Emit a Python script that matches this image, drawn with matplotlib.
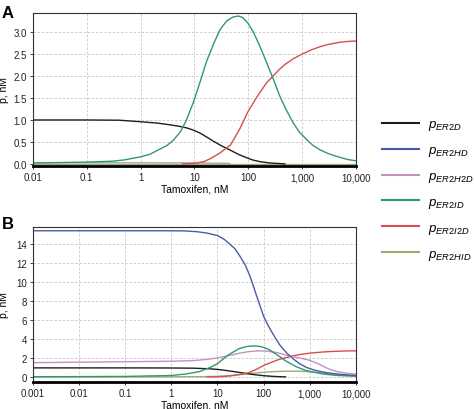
import matplotlib
matplotlib.use("Agg")
import matplotlib.pyplot as plt
from matplotlib.lines import Line2D
from matplotlib.ticker import FixedLocator, FixedFormatter, NullLocator

plt.rcParams['font.family'] = ['Liberation Sans', 'DejaVu Sans']
plt.rcParams['mathtext.fontset'] = 'custom'
plt.rcParams['mathtext.it'] = 'Liberation Sans:italic'
plt.rcParams['mathtext.rm'] = 'Liberation Sans'
plt.rcParams['mathtext.default'] = 'it'

# ---- data, panel A ----
a_black_x = [0.01, 0.1, 0.4, 1, 2, 3.1, 5, 7.2, 10, 12.8, 17, 23, 32, 47, 65, 81, 120, 165, 250, 480]
a_black_y = [1.0, 1.0, 0.995, 0.96, 0.93, 0.9, 0.86, 0.82, 0.76, 0.7, 0.61, 0.51, 0.41, 0.31, 0.22, 0.17, 0.09, 0.05, 0.02, 0.0]

a_pink_x = [0.01, 0.1, 1, 10, 30, 45]
a_pink_y = [0.025, 0.025, 0.025, 0.022, 0.015, 0.01]

a_olive_x = [0.01, 0.1, 1, 10, 100, 1000, 10000]
a_olive_y = [0.005, 0.005, 0.005, 0.005, 0.005, 0.005, 0.005]

a_green_x = [0.01, 0.1, 0.3, 0.5, 1, 1.5, 2, 3.1, 4, 5.5, 7, 9.7, 13, 17, 23, 30, 40, 53, 66, 80,
             100, 125, 160, 220, 300, 385, 500, 690, 900, 1230, 1600, 2160, 3000, 3700, 5000, 7000, 10000]
a_green_y = [0.02, 0.04, 0.06, 0.09, 0.16, 0.22, 0.3, 0.42, 0.53, 0.73, 0.98, 1.42, 1.9, 2.35, 2.75, 3.06, 3.26, 3.35, 3.37, 3.33,
             3.2, 3.0, 2.72, 2.31, 1.9, 1.55, 1.25, 0.93, 0.72, 0.55, 0.42, 0.32, 0.24, 0.2, 0.15, 0.1, 0.07]

a_red_x = [6, 10, 15, 20, 30, 47, 70, 100, 150, 220, 300, 385, 500, 700, 1000, 1500, 2160, 3000, 5000, 7000, 10000]
a_red_y = [0.0, 0.01, 0.05, 0.12, 0.25, 0.43, 0.8, 1.2, 1.55, 1.85, 2.02, 2.16, 2.28, 2.4, 2.5, 2.6, 2.67, 2.72, 2.77, 2.79, 2.8]

# ---- data, panel B ----
b_black_x = [0.001, 0.01, 0.1, 1, 3, 7, 12, 20, 35, 60, 100, 165, 300]
b_black_y = [0.95, 0.95, 0.95, 0.94, 0.92, 0.85, 0.75, 0.6, 0.42, 0.25, 0.13, 0.05, 0.0]

b_blue_x = [0.001, 0.01, 0.1, 1, 2, 3.6, 6, 10, 14, 18.5, 24, 30, 40, 50, 60, 70, 85, 100, 120, 140,
            180, 230, 320, 440, 600, 850, 1200, 1600, 2300, 4000, 6000, 10000]
b_blue_y = [15.4, 15.4, 15.4, 15.4, 15.38, 15.3, 15.15, 14.9, 14.5, 14.0, 13.5, 12.8, 11.8, 10.7, 9.6, 8.6, 7.4, 6.4, 5.6, 5.0,
            4.1, 3.3, 2.5, 1.9, 1.4, 1.0, 0.75, 0.6, 0.45, 0.3, 0.22, 0.15]

b_pink_x = [0.001, 0.01, 0.1, 1, 3, 6, 10, 20, 30, 50, 80, 120, 200, 370, 600, 1000, 1500, 2000, 2700, 4000, 6000, 10000]
b_pink_y = [1.5, 1.55, 1.6, 1.65, 1.72, 1.85, 2.0, 2.3, 2.5, 2.68, 2.75, 2.72, 2.55, 2.2, 2.0, 1.75, 1.4, 1.1, 0.8, 0.55, 0.4, 0.3]

b_green_x = [0.001, 0.01, 0.1, 1, 2, 4, 7, 10, 17, 30, 45, 65, 90, 130, 200, 300, 500, 800, 1200, 2000, 4000, 10000]
b_green_y = [0.02, 0.03, 0.05, 0.15, 0.3, 0.55, 1.0, 1.4, 2.3, 3.0, 3.22, 3.27, 3.18, 2.9, 2.3, 1.7, 1.1, 0.7, 0.5, 0.3, 0.15, 0.07]

b_red_x = [6, 10, 15, 20, 30, 47, 70, 100, 150, 220, 300, 385, 500, 700, 1000, 1500, 2160, 3000, 5000, 7000, 10000]
b_red_y = [0.0, 0.01, 0.05, 0.12, 0.25, 0.43, 0.8, 1.2, 1.55, 1.85, 2.02, 2.16, 2.28, 2.4, 2.5, 2.58, 2.64, 2.68, 2.72, 2.74, 2.75]

b_olive_x = [0.001, 1, 5, 10, 20, 40, 80, 150, 300, 600, 1000, 2000, 4000, 10000]
b_olive_y = [0.0, 0.01, 0.03, 0.06, 0.15, 0.3, 0.45, 0.55, 0.6, 0.6, 0.55, 0.4, 0.25, 0.1]

labels = [r'$p_{ER2D}$', r'$p_{ER2HD}$', r'$p_{ER2H2D}$', r'$p_{ER2ID}$', r'$p_{ER2I2D}$', r'$p_{ER2HID}$']
colors = ['#1e1e1e', '#4b5aa6', '#c590c4', '#2e9a6b', '#d4504c', '#9cac70']

a_ticks = [0.01, 0.1, 1, 10, 100, 1000, 10000]
a_ticklabels = ['0.01', '0.1', '1', '10', '100', '1,000', '10,000']
b_ticks = [0.001, 0.01, 0.1, 1, 10, 100, 1000, 10000]
b_ticklabels = ['0.001', '0.01', '0.1', '1', '10', '100', '1,000', '10,000']

fig = plt.figure(figsize=(4.74, 4.10), dpi=100)
axA = fig.add_axes([0.0696, 0.593, 0.681, 0.373])
axB = fig.add_axes([0.0696, 0.066, 0.681, 0.378])


def style(ax, xt, xtl, yt, ytl, xlim, ylim):
    ax.set_xscale('log')
    ax.set_xlim(*xlim)
    ax.set_ylim(*ylim)
    ax.xaxis.set_major_locator(FixedLocator(xt))
    ax.xaxis.set_major_formatter(FixedFormatter(xtl))
    ax.xaxis.set_minor_locator(NullLocator())
    ax.set_yticks(yt)
    ax.set_yticklabels(ytl)
    ax.grid(True, color='#c8c8c8', linestyle=(0, (3, 2)), linewidth=0.6)
    ax.set_axisbelow(True)
    ax.tick_params(labelsize=7, length=2.5, width=0.6, pad=2, colors='#222222')
    for s in ax.spines.values():
        s.set_color('#333333')
        s.set_linewidth(0.8)
    ax.spines['bottom'].set_linewidth(2.0)
    ax.spines['bottom'].set_color('black')
    ax.set_xlabel('Tamoxifen, nM', fontsize=7.5, labelpad=1)
    ax.set_ylabel('p, nM', fontsize=7.5)
    ax.yaxis.set_label_coords(-0.075, 0.5)


lw = 1.0
axA.plot(a_pink_x, a_pink_y, color='#a8a8a8', lw=lw)
axA.plot(a_olive_x, a_olive_y, color=colors[5], lw=lw)
axA.plot(a_black_x, a_black_y, color=colors[0], lw=lw)
axA.plot(a_red_x, a_red_y, color=colors[4], lw=lw)
axA.plot(a_green_x, a_green_y, color=colors[3], lw=lw)
style(axA, a_ticks, a_ticklabels, [0, 0.5, 1.0, 1.5, 2.0, 2.5, 3.0],
      ['0.0', '0.5', '1.0', '1.5', '2.0', '2.5', '3.0'], (0.01, 10000), (-0.046, 3.44))

axB.plot(b_olive_x, b_olive_y, color=colors[5], lw=lw)
axB.plot(b_black_x, b_black_y, color=colors[0], lw=lw)
axB.plot(b_red_x, b_red_y, color=colors[4], lw=lw)
axB.plot(b_pink_x, b_pink_y, color=colors[2], lw=lw)
axB.plot(b_green_x, b_green_y, color=colors[3], lw=lw)
axB.plot(b_blue_x, b_blue_y, color=colors[1], lw=lw)
style(axB, b_ticks, b_ticklabels, [0, 2, 4, 6, 8, 10, 12, 14],
      ['0', '2', '4', '6', '8', '10', '12', '14'], (0.001, 10000), (-0.53, 15.8))

fig.text(0.004, 0.985, 'A', fontsize=12, fontweight='bold', va='top')
fig.text(0.004, 0.47, 'B', fontsize=12, fontweight='bold', va='top')

handles = [Line2D([], [], color=c, lw=1.5) for c in colors]
fig.legend(handles, labels, loc='upper left', bbox_to_anchor=(0.795, 0.722),
           frameon=False, fontsize=9.5, handlelength=2.8, handletextpad=0.7,
           labelspacing=0.88, borderaxespad=0)

fig.savefig('out.png', dpi=100)
